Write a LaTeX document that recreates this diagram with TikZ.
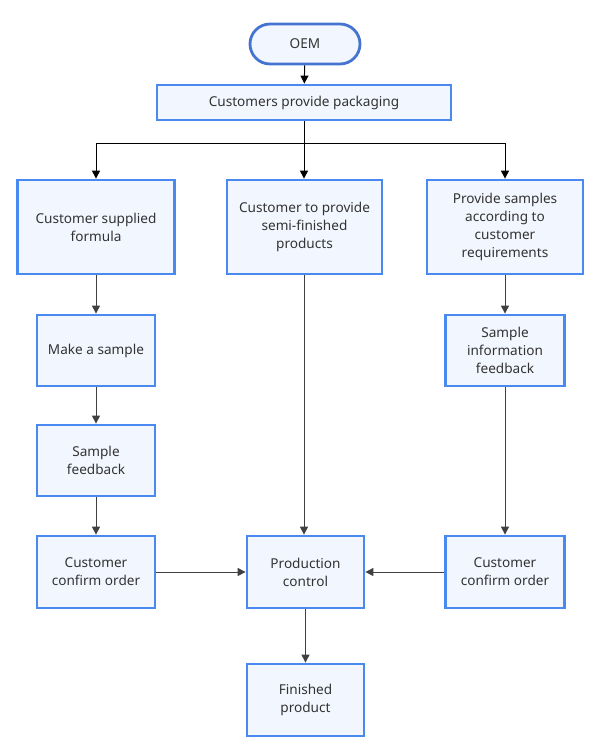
\documentclass[tikz,border=0pt]{standalone}
\usepackage{fontspec}
\setmainfont{Noto Sans}
\usetikzlibrary{arrows.meta}
\definecolor{boxfill}{HTML}{F2F6FE}
\definecolor{boxline}{HTML}{4A8AF0}
\definecolor{oemline}{HTML}{4574D0}
\definecolor{txt}{HTML}{333333}
\definecolor{arr}{HTML}{404040}
\tikzset{
  box/.style={draw=boxline, fill=boxfill, line width=2.8pt, text=txt, align=center, inner sep=0pt,
    font=\fontsize{13.6}{18}\selectfont},
  pill/.style={box, draw=oemline, rounded corners=20pt},
  conn/.style={draw=arr, line width=1pt, -{Triangle[width=8pt,length=8pt]}},
  connb/.style={conn, draw=black}
}
\begin{document}
\begin{tikzpicture}[x=1pt,y=-1pt]
\useasboundingbox (0,0) rectangle (606,740);
\node[pill, minimum width=110pt, minimum height=40pt] (oem) at (305,44) {OEM};
\node[box, minimum width=294pt, minimum height=35pt] (pack) at (304,102.5) {Customers provide packaging};
\node[box, minimum width=157pt, minimum height=94pt] (formula) at (96,227) {Customer supplied\\formula};
\node[box, minimum width=155pt, minimum height=94pt] (semi) at (304.5,227) {Customer to provide\\semi-finished\\products};
\node[box, minimum width=156pt, minimum height=94pt] (prov) at (505,227) {Provide samples\\according to\\customer\\requirements};
\node[box, minimum width=118pt, minimum height=71pt] (make) at (96,350.5) {Make a sample};
\node[box, minimum width=118pt, minimum height=71pt] (sfb) at (96,460.5) {Sample\\feedback};
\node[box, minimum width=118pt, minimum height=72pt] (lco) at (96,572) {Customer\\confirm order};
\node[box, minimum width=117pt, minimum height=72pt] (prod) at (305.5,572) {Production\\control};
\node[box, minimum width=119pt, minimum height=71pt] (sif) at (505,350.5) {Sample\\information\\feedback};
\node[box, minimum width=119pt, minimum height=72pt] (rco) at (505,572) {Customer\\confirm order};
\node[box, minimum width=117pt, minimum height=72pt] (fin) at (305.5,700) {Finished\\product};
\coordinate (j) at (304,143);
\draw[connb] (oem) -- (pack);
\draw[black, line width=1pt] (pack.south -| j) -- (j);
\draw[connb] (j) -| (formula.north);
\draw[connb] (j) -| (prov.north);
\draw[connb] (j) -- (j |- semi.north);
\draw[conn] (formula) -- (make);
\draw[conn] (make) -- (sfb);
\draw[conn] (sfb) -- (lco);
\draw[conn] (semi.south -| j) -- (prod.north -| j);
\draw[conn] (prov) -- (sif);
\draw[conn] (sif) -- (rco);
\draw[conn] (lco) -- (prod);
\draw[conn] (rco) -- (prod);
\draw[conn] (prod) -- (fin);
\end{tikzpicture}
\end{document}
